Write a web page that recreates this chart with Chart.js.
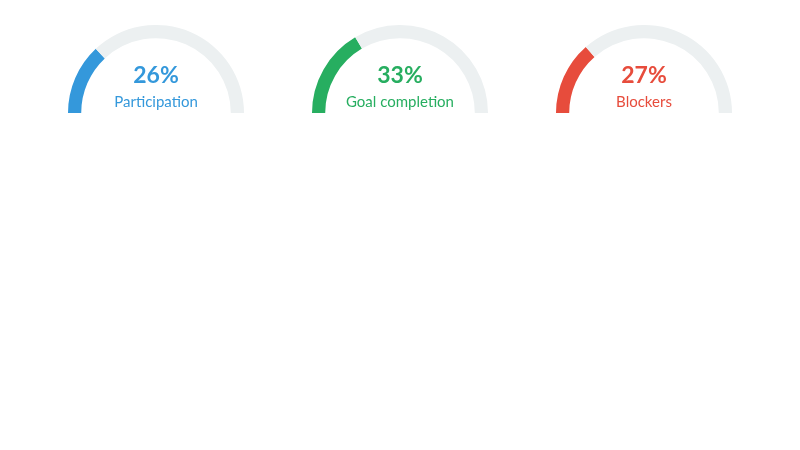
<!DOCTYPE html>
<html><head><meta charset="utf-8">
<script src="https://cdn.jsdelivr.net/npm/chart.js@4"></script>
<style>
body{margin:0;width:800px;height:450px;background:#fff;font-family:Lato,sans-serif;position:relative}
.g{position:absolute;top:25px;width:176px;height:88px}
.g canvas{position:absolute;left:0;top:0}
.v{position:absolute;left:0;width:176px;text-align:center;top:35px;font-size:23px;font-weight:bold}
.l{position:absolute;left:0;width:176px;text-align:center;top:67px;font-size:15px}
</style></head><body>
<script>
const labels=["Participation","Goal completion","Blockers"];
const values=[26,33,27];
const colors=["#3498db","#27ae60","#e74c3c"];
const lefts=[68,312,556];
labels.forEach((lab,i)=>{
  const d=document.createElement('div');d.className='g';d.style.left=lefts[i]+'px';
  const c=document.createElement('canvas');c.width=176;c.height=88;c.style.width='176px';c.style.height='88px';
  d.appendChild(c);
  const v=document.createElement('div');v.className='v';v.style.color=colors[i];v.textContent=values[i]+'%';d.appendChild(v);
  const l=document.createElement('div');l.className='l';l.style.color=colors[i];l.textContent=lab;d.appendChild(l);
  document.body.appendChild(d);
  new Chart(c,{type:'doughnut',data:{labels:[lab,''],datasets:[{data:[values[i],100-values[i]],backgroundColor:[colors[i],'#ecf0f1'],borderWidth:0}]},
    options:{responsive:false,animation:false,rotation:-90,circumference:180,cutout:'85%',layout:{padding:0},
      plugins:{legend:{display:false},tooltip:{enabled:false}}}});
});
</script>
</body></html>
